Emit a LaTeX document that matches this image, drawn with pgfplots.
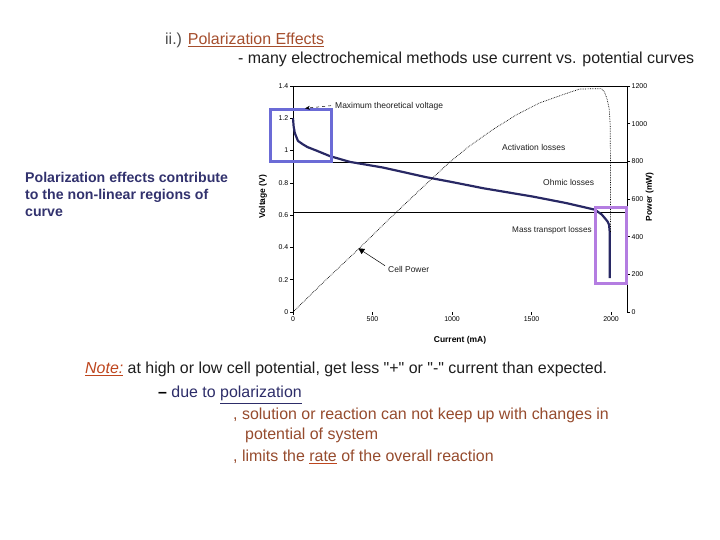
\documentclass[border=0pt]{standalone}
\usepackage{fontspec}
\setmainfont{Liberation Sans}
\usepackage{pgfplots}
\pgfplotsset{compat=1.18}
\usetikzlibrary{arrows.meta}
\definecolor{sienna}{RGB}{165,78,45}
\definecolor{brownt}{RGB}{150,75,45}
\definecolor{noter}{RGB}{190,70,30}
\definecolor{navyt}{RGB}{45,45,105}
\definecolor{boldnavy}{RGB}{50,50,110}
\definecolor{curve}{RGB}{40,40,100}
\definecolor{bluebox}{RGB}{107,107,214}
\definecolor{purplebox}{RGB}{180,125,225}
\definecolor{dark}{RGB}{30,30,30}
\pgfplotstableread{
x y
0 1.20
4 1.15
11 1.11
31 1.06
60 1.04
90 1.022
147 1.00
231 0.966
357 0.93
565 0.895
838 0.835
1000 0.805
1194 0.767
1508 0.715
1717 0.675
1897 0.634
1940 0.605
1960 0.582
1978 0.560
1987 0.541
1991 0.50
1992 0.458
1992 0.21
}\voltage
\pgfplotstableread{
x y
0 0
200 165
419 340
600 490
800 650
984 795
1100 875
1250 965
1403 1046
1550 1110
1700 1155
1803 1184
1940 1186
1960 1165
1975 1130
1988 1080
1994 1000
1996 800
1996 420
}\power
\begin{document}
\begin{tikzpicture}
\path[fill=white] (0bp,0bp) rectangle (720bp,540bp);
\begin{axis}[
  at={(293bp,228bp)}, anchor=south west,
  width=334bp, height=226bp, scale only axis,
  xmin=0, xmax=2100, ymin=0, ymax=1.4,
  separate axis lines,
  axis x line*=bottom, axis y line*=left,
  x axis line style={draw=none},
  y axis line style={black, line width=0.6pt},
  xtick={0,500,1000,1500,2000},
  ytick={0,0.2,0.4,0.6,0.8,1,1.2,1.4},
  tick align=outside, major tick length=3bp,
  tick style={black, line width=0.5pt},
  ticklabel style={font=\fontsize{7}{8}\selectfont, inner sep=1.5pt},
  /pgf/number format/assume math mode=true,
  /pgf/number format/1000 sep={},
  xlabel={Current (mA)}, ylabel={Voltage (V)},
  label style={font=\bfseries\fontsize{8.5}{10}\selectfont},
  xlabel style={at={(axis description cs:0.5,-0.124)}, anchor=center},
  ylabel style={at={(axis description cs:-0.09,0.51)}, anchor=center},
  clip=false,
]
\draw[black, line width=0.6pt] (0,1.4) -- (2100,1.4);
\draw[black, line width=0.5pt] (0,0.925) -- (2100,0.925);
\draw[black, line width=0.5pt] (0,0.615) -- (2100,0.615);
\addplot[curve, line width=2.2pt, line join=round] table[x=x,y=y] {\voltage};
\end{axis}
\begin{axis}[
  at={(293bp,228bp)}, anchor=south west,
  width=334bp, height=226bp, scale only axis,
  xmin=0, xmax=2100, ymin=0, ymax=1200,
  axis x line=none, axis y line*=right,
  y axis line style={black, line width=0.6pt},
  ytick={0,200,400,600,800,1000,1200},
  tick align=outside, major tick length=3bp,
  tick style={black, line width=0.5pt},
  ticklabel style={font=\fontsize{7}{8}\selectfont, inner sep=1.5pt},
  /pgf/number format/assume math mode=true,
  /pgf/number format/1000 sep={},
  ylabel={Power (mW)},
  label style={font=\bfseries\fontsize{8.5}{10}\selectfont},
  ylabel style={at={(axis description cs:1.068,0.51)}, anchor=center},
  clip=false,
]
\addplot[black, line width=0.7pt, densely dotted] table[x=x,y=y] {\power};
\end{axis}
% boxes
\draw[bluebox, line width=3bp] (270bp,430bp) rectangle (331.5bp,378bp);
\draw[purplebox, line width=3bp] (595bp,332.5bp) rectangle (626.5bp,256bp);
% annotations
\begin{scope}[every node/.style={inner sep=0pt, font=\fontsize{8.5}{10}\selectfont, text=dark}]
\node[anchor=west] at (335bp,433.5bp) {Maximum theoretical voltage};
\node[anchor=west] at (502bp,392.3bp) {Activation losses};
\node[anchor=west] at (543bp,357.7bp) {Ohmic losses};
\node[anchor=west] at (512bp,310bp) {\fontsize{8.2}{10}\selectfont Mass transport losses};
\node[anchor=west] at (388bp,271bp) {Cell Power};
\end{scope}
\draw[black, line width=0.5pt, dashed, -{Stealth[length=5bp,width=4bp]}] (331bp,434.3bp) -- (305bp,431.7bp);
\draw[black, line width=0.5pt, -{Triangle[length=6bp,width=6bp]}] (385bp,274.3bp) -- (358.3bp,291.7bp);
% slide text
\begin{scope}[every node/.style={inner sep=0pt, anchor=base west, font=\fontsize{16}{18}\selectfont}]
\node at (165bp,495bp) {\textcolor{dark!80}{ii.) }\textcolor{sienna}{\underline{Polarization Effects}}};
\node[text=dark] at (238bp,476bp) {- many electrochemical methods use current vs. potential curves};
\node[text=dark] at (85bp,166bp) {\textcolor{noter}{\textit{\underline{Note:}}} at high or low cell potential, get less \textquotedbl+\textquotedbl{} or \textquotedbl-\textquotedbl{} current than expected.};
\node[text=navyt] at (158bp,142bp) {\textcolor{black}{\textbf{–}} due to \underline{polarization}};
\node[text=brownt] at (233bp,120bp) {, solution or reaction can not keep up with changes in};
\node[text=brownt] at (245bp,100bp) {potential of system};
\node[text=brownt] at (233bp,78bp) {, limits the \textcolor{noter}{\underline{\textcolor{brownt}{rate}}} of the overall reaction};
\end{scope}
\begin{scope}[every node/.style={inner sep=0pt, anchor=base west, text=boldnavy, font=\bfseries\fontsize{14.2}{16}\selectfont}]
\node at (25bp,357bp) {Polarization effects contribute};
\node at (25bp,340bp) {to the non-linear regions of};
\node at (25bp,323bp) {curve};
\end{scope}
\end{tikzpicture}
\end{document}
